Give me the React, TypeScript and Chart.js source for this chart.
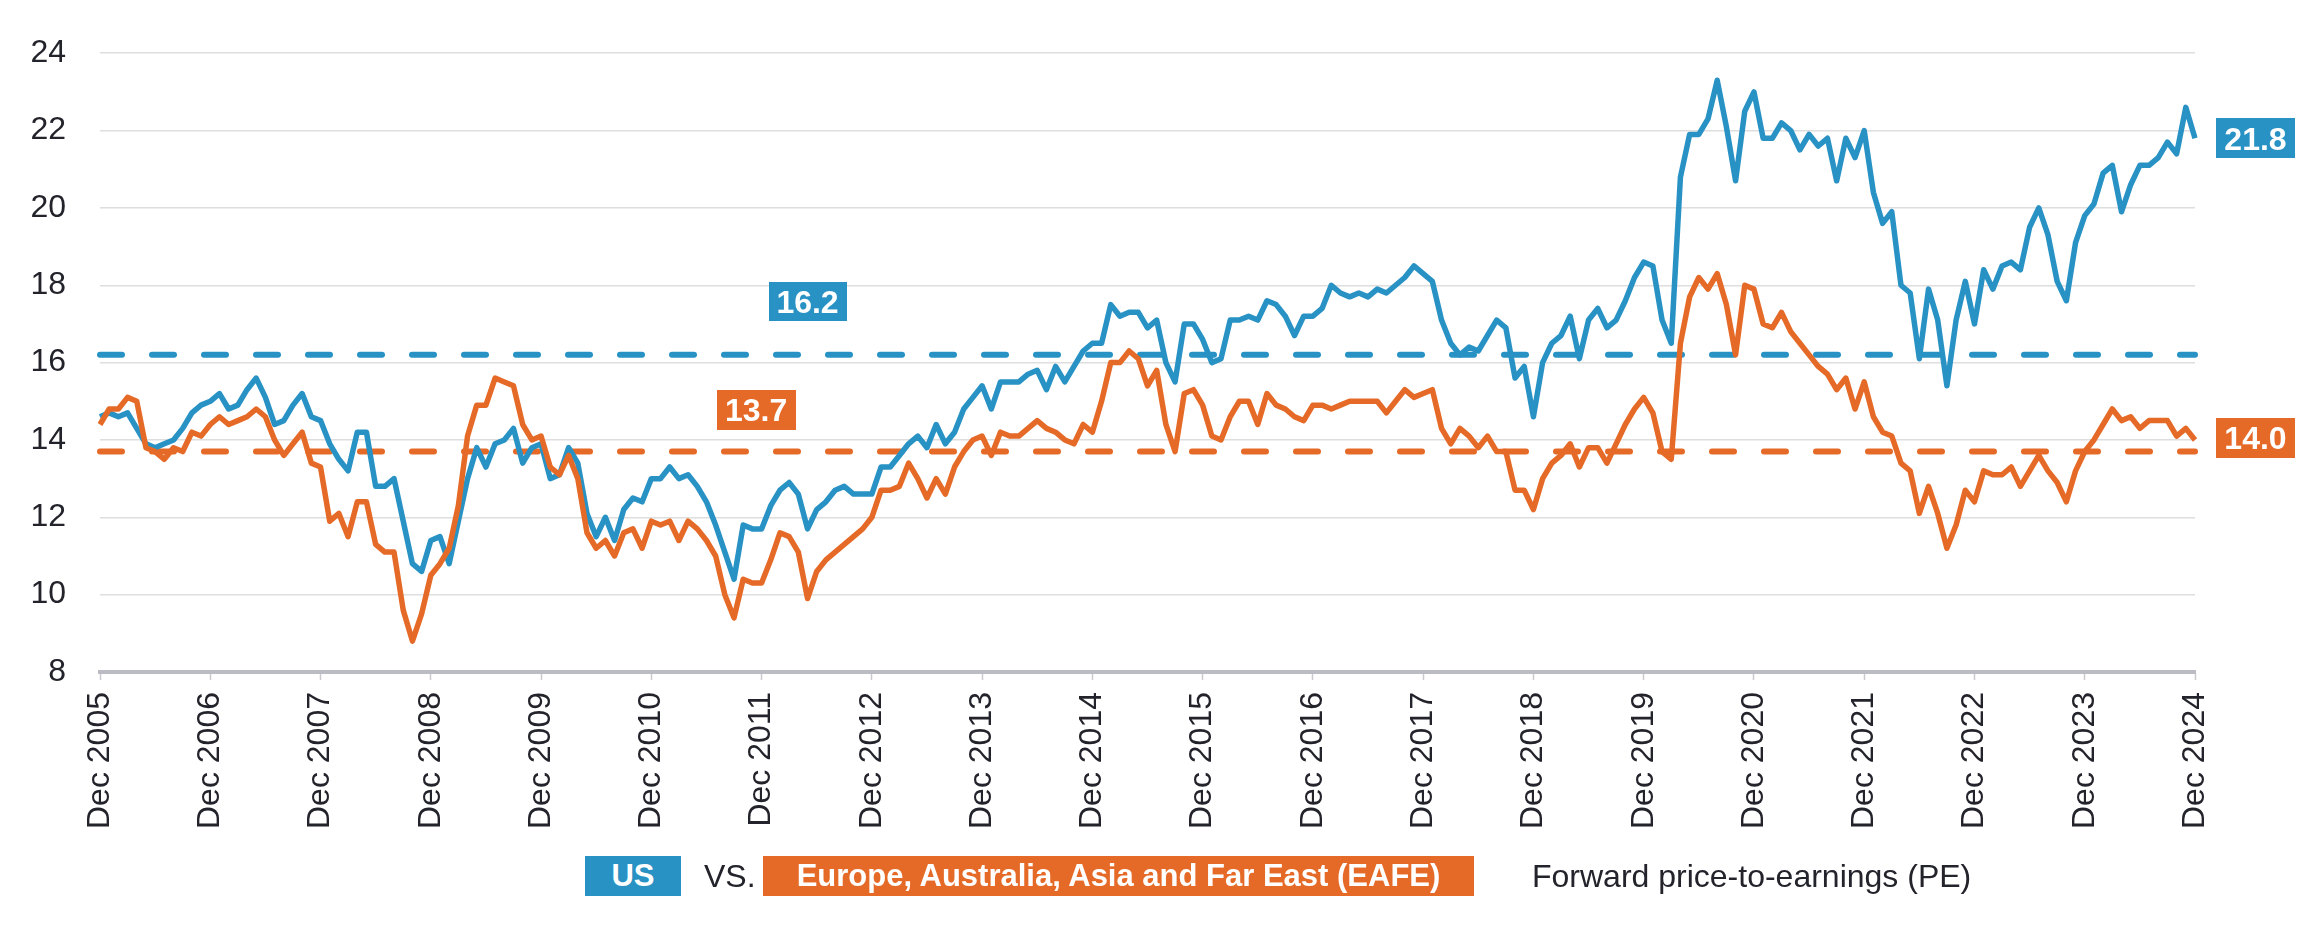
import React, { useEffect, useRef } from "react";
import { Chart, registerables } from "chart.js";

Chart.register(...registerables);

const BLUE = "#2992c5";
const ORANGE = "#e66a27";
const TEXT = "#23232b";
const SANS = "'Liberation Sans', Arial, sans-serif";

const MONTHS = ["Jan", "Feb", "Mar", "Apr", "May", "Jun", "Jul", "Aug", "Sep", "Oct", "Nov", "Dec"];
const START_YEAR = 2005;
const START_MONTH = 11; // December
const MONTH_COUNT = 229;

const LABELS: string[] = [];
for (let i = 0; i < MONTH_COUNT; i++) {
  const mi = START_MONTH + i;
  LABELS.push(`${MONTHS[mi % 12]} ${START_YEAR + Math.floor(mi / 12)}`);
}

const US_PE = [
  14.6, 14.7, 14.6, 14.7, 14.3, 13.9, 13.8, 13.9, 14.0, 14.3,
  14.7, 14.9, 15.0, 15.2, 14.8, 14.9, 15.3, 15.6, 15.1, 14.4,
  14.5, 14.9, 15.2, 14.6, 14.5, 13.9, 13.5, 13.2, 14.2, 14.2,
  12.8, 12.8, 13.0, 11.9, 10.8, 10.6, 11.4, 11.5, 10.8, 11.9,
  13.0, 13.8, 13.3, 13.9, 14.0, 14.3, 13.4, 13.8, 13.9, 13.0,
  13.1, 13.8, 13.4, 12.1, 11.5, 12.0, 11.4, 12.2, 12.5, 12.4,
  13.0, 13.0, 13.3, 13.0, 13.1, 12.8, 12.4, 11.8, 11.1, 10.4,
  11.8, 11.7, 11.7, 12.3, 12.7, 12.9, 12.6, 11.7, 12.2, 12.4,
  12.7, 12.8, 12.6, 12.6, 12.6, 13.3, 13.3, 13.6, 13.9, 14.1,
  13.8, 14.4, 13.9, 14.2, 14.8, 15.1, 15.4, 14.8, 15.5, 15.5,
  15.5, 15.7, 15.8, 15.3, 15.9, 15.5, 15.9, 16.3, 16.5, 16.5,
  17.5, 17.2, 17.3, 17.3, 16.9, 17.1, 16.0, 15.5, 17.0, 17.0,
  16.6, 16.0, 16.1, 17.1, 17.1, 17.2, 17.1, 17.6, 17.5, 17.2,
  16.7, 17.2, 17.2, 17.4, 18.0, 17.8, 17.7, 17.8, 17.7, 17.9,
  17.8, 18.0, 18.2, 18.5, 18.3, 18.1, 17.1, 16.5, 16.2, 16.4,
  16.3, 16.7, 17.1, 16.9, 15.6, 15.9, 14.6, 16.0, 16.5, 16.7,
  17.2, 16.1, 17.1, 17.4, 16.9, 17.1, 17.6, 18.2, 18.6, 18.5,
  17.1, 16.5, 20.8, 21.9, 21.9, 22.3, 23.3, 22.1, 20.7, 22.5,
  23.0, 21.8, 21.8, 22.2, 22.0, 21.5, 21.9, 21.6, 21.8, 20.7,
  21.8, 21.3, 22.0, 20.4, 19.6, 19.9, 18.0, 17.8, 16.1, 17.9,
  17.1, 15.4, 17.1, 18.1, 17.0, 18.4, 17.9, 18.5, 18.6, 18.4,
  19.5, 20.0, 19.3, 18.1, 17.6, 19.1, 19.8, 20.1, 20.9, 21.1,
  19.9, 20.6, 21.1, 21.1, 21.3, 21.7, 21.4, 22.6, 21.8,
];

const EAFE_PE = [
  14.4, 14.8, 14.8, 15.1, 15.0, 13.8, 13.7, 13.5, 13.8, 13.7,
  14.2, 14.1, 14.4, 14.6, 14.4, 14.5, 14.6, 14.8, 14.6, 14.0,
  13.6, 13.9, 14.2, 13.4, 13.3, 11.9, 12.1, 11.5, 12.4, 12.4,
  11.3, 11.1, 11.1, 9.6, 8.8, 9.5, 10.5, 10.8, 11.2, 12.3,
  14.1, 14.9, 14.9, 15.6, 15.5, 15.4, 14.4, 14.0, 14.1, 13.3,
  13.1, 13.6, 13.0, 11.6, 11.2, 11.4, 11.0, 11.6, 11.7, 11.2,
  11.9, 11.8, 11.9, 11.4, 11.9, 11.7, 11.4, 11.0, 10.0, 9.4,
  10.4, 10.3, 10.3, 10.9, 11.6, 11.5, 11.1, 9.9, 10.6, 10.9,
  11.1, 11.3, 11.5, 11.7, 12.0, 12.7, 12.7, 12.8, 13.4, 13.0,
  12.5, 13.0, 12.6, 13.3, 13.7, 14.0, 14.1, 13.6, 14.2, 14.1,
  14.1, 14.3, 14.5, 14.3, 14.2, 14.0, 13.9, 14.4, 14.2, 15.0,
  16.0, 16.0, 16.3, 16.1, 15.4, 15.8, 14.4, 13.7, 15.2, 15.3,
  14.9, 14.1, 14.0, 14.6, 15.0, 15.0, 14.4, 15.2, 14.9, 14.8,
  14.6, 14.5, 14.9, 14.9, 14.8, 14.9, 15.0, 15.0, 15.0, 15.0,
  14.7, 15.0, 15.3, 15.1, 15.2, 15.3, 14.3, 13.9, 14.3, 14.1,
  13.8, 14.1, 13.7, 13.7, 12.7, 12.7, 12.2, 13.0, 13.4, 13.6,
  13.9, 13.3, 13.8, 13.8, 13.4, 13.9, 14.4, 14.8, 15.1, 14.7,
  13.7, 13.5, 16.5, 17.7, 18.2, 17.9, 18.3, 17.5, 16.2, 18.0,
  17.9, 17.0, 16.9, 17.3, 16.8, 16.5, 16.2, 15.9, 15.7, 15.3,
  15.6, 14.8, 15.5, 14.6, 14.2, 14.1, 13.4, 13.2, 12.1, 12.8,
  12.1, 11.2, 11.8, 12.7, 12.4, 13.2, 13.1, 13.1, 13.3, 12.8,
  13.2, 13.6, 13.2, 12.9, 12.4, 13.2, 13.7, 14.0, 14.4, 14.8,
  14.5, 14.6, 14.3, 14.5, 14.5, 14.5, 14.1, 14.3, 14.0,
];

const US_AVG = 16.2;
const EAFE_AVG = 13.7;
const Y_TICKS = [8, 10, 12, 14, 16, 18, 20, 22, 24];

const valueBoxes = {
  id: "valueBoxes",
  afterDatasetsDraw(chart: any) {
    const { ctx, chartArea, scales } = chart;
    const x = scales.x;
    const y = scales.y;
    const box = (cx: number, cy: number, w: number, h: number, color: string, text: string) => {
      ctx.save();
      ctx.fillStyle = color;
      ctx.fillRect(Math.round(cx - w / 2), Math.round(cy - h / 2), w, h);
      ctx.fillStyle = "#ffffff";
      ctx.font = `bold 32px ${SANS}`;
      ctx.textAlign = "center";
      ctx.textBaseline = "alphabetic";
      ctx.fillText(text, cx, cy + 11.5);
      ctx.restore();
    };
    box(x.getPixelForValue(77), y.getPixelForValue(US_AVG) - 53.5, 78, 39, BLUE, US_AVG.toFixed(1));
    box(x.getPixelForValue(71.4), y.getPixelForValue(EAFE_AVG) - 42, 79, 40, ORANGE, EAFE_AVG.toFixed(1));
    const rx = chartArea.right + 21 + 39.5;
    const lastUS = US_PE[US_PE.length - 1];
    const lastEAFE = EAFE_PE[EAFE_PE.length - 1];
    box(rx, y.getPixelForValue(lastUS), 79, 40, BLUE, lastUS.toFixed(1));
    box(rx, y.getPixelForValue(lastEAFE) - 2, 79, 40, ORANGE, lastEAFE.toFixed(1));
  },
};

function App() {
  const canvasRef = useRef<HTMLCanvasElement | null>(null);

  useEffect(() => {
    const canvas = canvasRef.current;
    if (!canvas) return;
    const chart = new Chart(canvas, {
      type: "line",
      data: {
        labels: LABELS,
        datasets: [
          {
            label: "Europe, Australia, Asia and Far East (EAFE)",
            data: EAFE_PE,
            borderColor: ORANGE,
            borderWidth: 5.5,
            pointRadius: 0,
            tension: 0,
            borderJoinStyle: "round",
            order: 0,
          },
          {
            label: "US",
            data: US_PE,
            borderColor: BLUE,
            borderWidth: 5.5,
            pointRadius: 0,
            tension: 0,
            borderJoinStyle: "round",
            order: 1,
          },
          {
            label: "EAFE average",
            data: LABELS.map(() => EAFE_AVG),
            borderColor: ORANGE,
            borderWidth: 6,
            borderDash: [22, 30],
            borderCapStyle: "round",
            pointRadius: 0,
            order: 2,
          },
          {
            label: "US average",
            data: LABELS.map(() => US_AVG),
            borderColor: BLUE,
            borderWidth: 6,
            borderDash: [22, 30],
            borderCapStyle: "round",
            pointRadius: 0,
            order: 3,
          },
        ],
      },
      options: {
        responsive: false,
        animation: false,
        devicePixelRatio: 1,
        layout: { padding: { top: 52, right: 129, bottom: 0, left: 0 } },
        plugins: {
          legend: { display: false },
          tooltip: { enabled: false },
        },
        scales: {
          x: {
            type: "category",
            offset: false,
            afterFit: (scale: any) => {
              scale.height = 254;
            },
            border: { display: true, color: "#babbc3", width: 4 },
            grid: {
              display: true,
              drawOnChartArea: false,
              drawTicks: true,
              tickLength: 8,
              tickColor: "#c9c9cf",
              tickWidth: 1.5,
              color: "#c9c9cf",
            },
            ticks: {
              autoSkip: false,
              maxRotation: 90,
              minRotation: 90,
              padding: 12,
              color: TEXT,
              font: { family: SANS, size: 32 },
              callback: (_v: any, i: number) => (i % 12 === 0 ? LABELS[i] : null),
            },
          },
          y: {
            min: 8,
            max: 24,
            afterFit: (scale: any) => {
              scale.width = 100;
            },
            afterBuildTicks: (scale: any) => {
              scale.ticks = Y_TICKS.map((v) => ({ value: v }));
            },
            border: { display: false },
            grid: {
              color: "#dedede",
              lineWidth: 1.5,
              drawTicks: false,
            },
            ticks: {
              padding: 34,
              color: TEXT,
              font: { family: SANS, size: 32 },
            },
          },
        },
      },
      plugins: [valueBoxes],
    } as any);
    return () => chart.destroy();
  }, []);

  const boxText: React.CSSProperties = {
    position: "absolute",
    top: 856,
    height: 40,
    lineHeight: "40px",
    color: "#fff",
    fontFamily: SANS,
    fontWeight: 700,
    fontSize: 31,
    textAlign: "center",
    whiteSpace: "nowrap",
  };
  const plainText: React.CSSProperties = {
    position: "absolute",
    top: 856,
    height: 40,
    lineHeight: "40px",
    color: TEXT,
    fontFamily: SANS,
    fontSize: 32,
    whiteSpace: "nowrap",
  };

  return (
    <div
      style={{
        position: "absolute",
        left: 0,
        top: 0,
        width: 2324,
        height: 926,
        background: "#ffffff",
        overflow: "hidden",
      }}
    >
      <canvas ref={canvasRef} width={2324} height={926} style={{ display: "block", width: 2324, height: 926 }} />
      <div style={{ ...boxText, left: 585, width: 96, background: BLUE }}>US</div>
      <div style={{ ...plainText, left: 704 }}>VS.</div>
      <div style={{ ...boxText, left: 763, width: 711, background: ORANGE }}>
        Europe, Australia, Asia and Far East (EAFE)
      </div>
      <div style={{ ...plainText, left: 1532 }}>Forward price-to-earnings (PE)</div>
    </div>
  );
}

export default App;
